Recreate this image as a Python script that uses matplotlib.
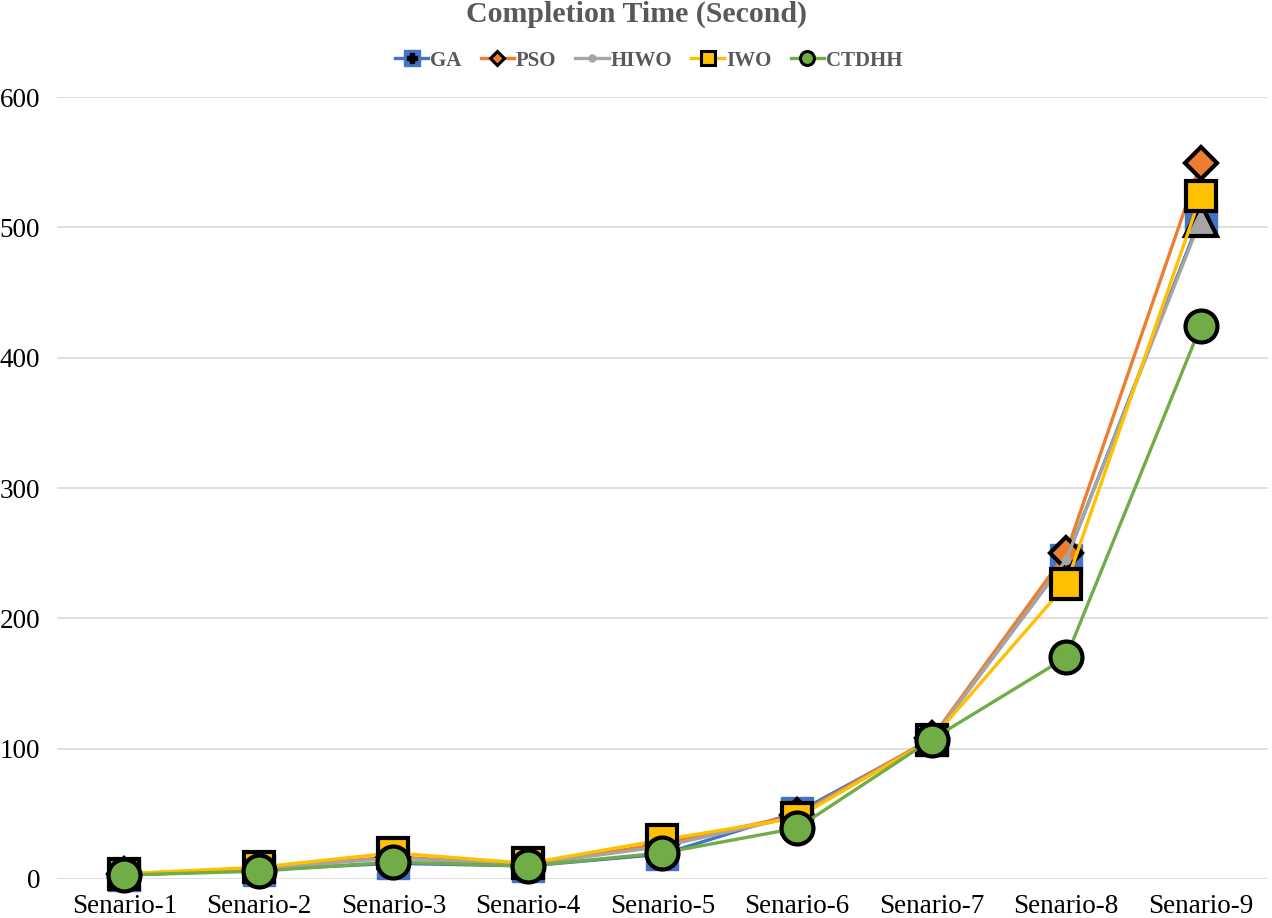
import matplotlib.pyplot as plt
from matplotlib.lines import Line2D
from matplotlib.legend_handler import HandlerTuple

# data
scenarios = ['Senario-1', 'Senario-2', 'Senario-3', 'Senario-4', 'Senario-5',
             'Senario-6', 'Senario-7', 'Senario-8', 'Senario-9']
ga = [3, 7, 12, 10, 19, 51, 107, 245, 508]
pso = [4, 8, 17, 11, 27, 49, 108, 250, 549]
hiwo = [3, 8, 16, 11, 25, 48, 107, 245, 506]
iwo = [4, 9, 20, 12, 30, 47, 107, 226, 524]
ctdhh = [3, 6, 13, 10, 20, 39, 107, 170, 424]

c_ga = '#4472C4'
c_pso = '#ED7D31'
c_hiwo = '#A5A5A5'
c_iwo = '#FFC000'
c_ctdhh = '#70AD47'

plt.rcParams['font.family'] = ['Liberation Serif', 'DejaVu Serif']

fig = plt.figure(figsize=(12.72, 9.18), dpi=100)
ax = fig.add_axes([0.0448, 0.0425, 0.952, 0.8518])
x = list(range(len(scenarios)))

# GA: blue squares with a black plus
ax.plot(x, ga, color=c_ga, lw=2.4, marker='s', ms=23, mfc=c_ga, mec=c_ga,
        clip_on=False, zorder=3)
ax.plot(x, ga, ls='none', marker='P', ms=10, color='black', clip_on=False, zorder=3)
# PSO: orange diamonds
ax.plot(x, pso, color=c_pso, lw=2.4, marker='D', ms=16, mfc=c_pso, mec='black',
        mew=3, clip_on=False, zorder=4)
# HIWO: small gray dots, triangle at the last point
ax.plot(x, hiwo, color=c_hiwo, lw=2.4, marker='o', ms=6, markevery=list(range(8)),
        mfc=c_hiwo, mec=c_hiwo, clip_on=False, zorder=5)
ax.plot(x[-1:], hiwo[-1:], ls='none', marker='^', ms=23, mfc=c_hiwo, mec='black',
        mew=3, clip_on=False, zorder=5)
# IWO: yellow squares
ax.plot(x, iwo, color=c_iwo, lw=2.4, marker='s', ms=22, mfc=c_iwo, mec='black',
        mew=3, clip_on=False, zorder=6)
# CTDHH: green circles
ax.plot(x, ctdhh, color=c_ctdhh, lw=2.4, marker='o', ms=23, mfc=c_ctdhh, mec='black',
        mew=3, clip_on=False, zorder=7)

ax.set_xlim(-0.5, 8.5)
ax.set_ylim(0, 600)
ax.set_yticks(range(0, 601, 100))
ax.set_xticks(x)
ax.set_xticklabels(scenarios)
ax.tick_params(length=0, labelsize=19.5)
ax.xaxis.set_tick_params(pad=11)
ax.yaxis.set_tick_params(pad=12)
ax.grid(axis='y', color='#D9D9D9', lw=1.2)
ax.set_axisbelow(True)
for s in ax.spines.values():
    s.set_visible(False)

fig.text(0.5, 0.984, 'Completion Time (Second)', ha='center', va='center',
         fontsize=21.5, fontweight='bold', color='#595959')

# legend handles
h_ga = (Line2D([], [], color=c_ga, lw=2.4, marker='s', ms=11, mfc=c_ga, mec=c_ga),
        Line2D([], [], ls='none', marker='P', ms=7, color='black'))
h_pso = Line2D([], [], color=c_pso, lw=2.4, marker='D', ms=7, mfc=c_pso, mec='black', mew=2.2)
h_hiwo = Line2D([], [], color=c_hiwo, lw=2.4, marker='o', ms=5, mfc=c_hiwo, mec=c_hiwo)
h_iwo = Line2D([], [], color=c_iwo, lw=2.4, marker='s', ms=10, mfc=c_iwo, mec='black', mew=2.2)
h_ctdhh = Line2D([], [], color=c_ctdhh, lw=2.4, marker='o', ms=10, mfc=c_ctdhh, mec='black', mew=2.2)
leg = fig.legend([h_ga, h_pso, h_hiwo, h_iwo, h_ctdhh],
                 ['GA', 'PSO', 'HIWO', 'IWO', 'CTDHH'],
                 handler_map={tuple: HandlerTuple(ndivide=1, pad=0)},
                 loc='center', bbox_to_anchor=(0.51, 0.934), ncol=5, frameon=False,
                 handlelength=1.6, handletextpad=0.1, columnspacing=0.9,
                 prop={'size': 15, 'weight': 'bold'})
for t in leg.get_texts():
    t.set_color('#595959')

fig.savefig('out.png', dpi=100)
